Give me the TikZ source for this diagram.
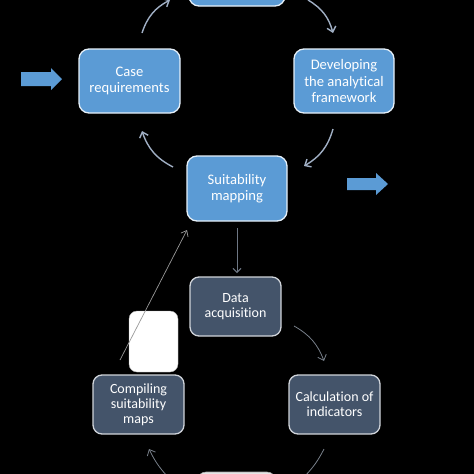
\documentclass[tikz,border=0pt]{standalone}
\usepackage{fontspec}
\setmainfont{Carlito}[Ligatures=NoCommon]
\usetikzlibrary{arrows.meta}
\definecolor{bluefill}{RGB}{91,155,213}
\definecolor{slatefill}{RGB}{68,84,106}
\definecolor{cyclearrow}{RGB}{160,175,196}
\definecolor{lowarrow}{RGB}{120,128,138}
\tikzset{
  bluebox/.style={draw=white!85!bluefill, line width=1.3pt, fill=bluefill, rounded corners=10pt, text=white, align=center, font=\fontsize{14.6}{16.5}\selectfont, inner sep=2pt},
  slatebox/.style={draw=white!75!slatefill, line width=1.3pt, fill=slatefill, rounded corners=9pt, text=white, align=center, font=\fontsize{14}{14.8}\selectfont, inner sep=2pt},
  upcurve/.style={draw=cyclearrow, line width=1.4pt, -{Straight Barb[length=5pt,width=9pt]}},
  lowcurve/.style={draw=lowarrow, line width=0.8pt, -{Straight Barb[length=5pt,width=9pt]}},
  blockarrow/.style={fill=bluefill}
}
\begin{document}
\begin{tikzpicture}[x=1pt,y=-1pt]
\useasboundingbox (0,0) rectangle (474,474);
\fill[black] (0,0) rectangle (474,474);
\clip (0,0) rectangle (474,474);
% upper cycle
\node[bluebox, minimum width=96pt, minimum height=64pt] (top) at (237,-26) {};
\node[bluebox, minimum width=101pt, minimum height=64pt] (case) at (129.5,81) {Case\\requirements};
\node[bluebox, minimum width=100pt, minimum height=64pt] (dev) at (344,81) {Developing\\the analytical\\framework};
\node[bluebox, minimum width=100pt, minimum height=65pt] (suit) at (237,188.5) {Suitability\\mapping};
% lower cycle
\node[slatebox, minimum width=91pt, minimum height=59pt] (data) at (235.5,306.5) {Data\\acquisition};
\node[slatebox, minimum width=91pt, minimum height=59pt] (comp) at (138.5,404.5) {Compiling\\suitability\\maps};
\node[slatebox, minimum width=91pt, minimum height=59pt] (calc) at (334.5,404.5) {Calculation of\\indicators};
\node[draw=gray!70, line width=0.6pt, fill=white!80!gray, rounded corners=9pt, minimum width=79pt, minimum height=59pt] (bottom) at (236.5,501.5) {};
\node[draw=gray!60, line width=0.4pt, fill=white, rounded corners=8pt, minimum width=49pt, minimum height=61pt] (blank) at (153.5,341.5) {};
% coordinates for connector ends
\coordinate (c1s) at (142,33);  \coordinate (c1e) at (170,0);
\coordinate (c2s) at (308,0);   \coordinate (c2e) at (333,33);
\coordinate (c3s) at (333,129); \coordinate (c3e) at (304,166);
\coordinate (c4s) at (173,167); \coordinate (c4e) at (142,131);
\coordinate (d1s) at (237,228); \coordinate (d1e) at (237,273);
\coordinate (l1s) at (120,360); \coordinate (l1e) at (187,230);
\coordinate (l2s) at (294,326); \coordinate (l2e) at (324,361);
\coordinate (l3s) at (324,449); \coordinate (l3e) at (305,476);
\coordinate (l4s) at (167,476); \coordinate (l4e) at (149,449);
\draw[upcurve] (c1s) to[bend left=22] (c1e);
\draw[upcurve] (c2s) to[bend left=22] (c2e);
\draw[upcurve] (c3s) to[bend left=22] (c3e);
\draw[upcurve] (c4s) to[bend left=22] (c4e);
\draw[draw=lowarrow!80!slatefill, line width=1pt, -{Straight Barb[length=4pt,width=8pt]}] (d1s) -- (d1e);
\draw[draw=gray!80, line width=0.7pt, -{Straight Barb[length=5pt,width=8pt]}] (l1s) -- (l1e);
\draw[lowcurve] (l2s) to[bend left=20] (l2e);
\draw[draw=lowarrow, line width=0.8pt] (l3s) to[bend left=8] (l3e);
\draw[lowcurve] (l4s) to[bend left=8] (l4e);
% block arrows
\fill[blockarrow] (21,72) -- (51,72) -- (51,68) -- (62,79) -- (51,90) -- (51,86) -- (21,86) -- cycle;
\fill[blockarrow] (347,178) -- (376,178) -- (376,173) -- (388,184) -- (376,195) -- (376,190) -- (347,190) -- cycle;
\end{tikzpicture}
\end{document}
